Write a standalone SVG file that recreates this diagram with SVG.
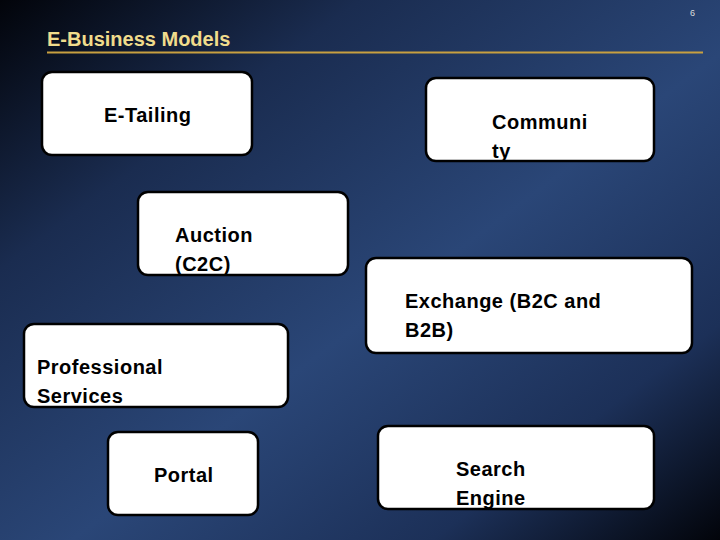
<svg xmlns="http://www.w3.org/2000/svg" width="720" height="540" viewBox="0 0 720 540">
<defs>
<linearGradient id="bg" x1="0" y1="0" x2="1" y2="1">
<stop offset="0" stop-color="#02040a"/>
<stop offset="0.25" stop-color="#1a2c50"/>
<stop offset="0.55" stop-color="#2a4677"/>
<stop offset="0.8" stop-color="#1c3058"/>
<stop offset="1" stop-color="#02040a"/>
</linearGradient>
<style>
.box{fill:#fff;stroke:#000;stroke-width:2.5}
.t{font-family:"Liberation Sans",Arial,sans-serif;font-size:20px;font-weight:bold;fill:#000;letter-spacing:0.5px}
</style>
</defs>
<rect width="720" height="540" fill="url(#bg)"/>
<text x="690" y="16" font-family="Liberation Sans,sans-serif" font-size="9" fill="#ddd">6</text>
<text x="47" y="46" font-family="Liberation Sans,sans-serif" font-size="20" font-weight="bold" fill="#f0dc8c">E-Business Models</text>
<line x1="47" y1="52.5" x2="703" y2="52.5" stroke="#c8a040" stroke-width="2"/>
<g id="connectors"/>
<g id="etailing"><rect class="box" x="42" y="72" width="210" height="83" rx="10"/><text class="t" x="104" y="122">E-Tailing</text></g>
<g id="community"><rect class="box" x="426" y="78" width="228" height="83" rx="10"/><text class="t" x="492" y="129">Communi</text><text class="t" x="492" y="158">ty</text></g>
<g id="auction"><rect class="box" x="138" y="192" width="210" height="83" rx="10"/><text class="t" x="175" y="242">Auction</text><text class="t" x="175" y="271">(C2C)</text></g>
<g id="exchange"><rect class="box" x="366" y="258" width="326" height="95" rx="10"/><text class="t" x="405" y="308">Exchange (B2C and</text><text class="t" x="405" y="337">B2B)</text></g>
<g id="professional"><rect class="box" x="24" y="324" width="264" height="83" rx="10"/><text class="t" x="37" y="374">Professional</text><text class="t" x="37" y="403">Services</text></g>
<g id="portal"><rect class="box" x="108" y="432" width="150" height="83" rx="10"/><text class="t" x="154" y="482">Portal</text></g>
<g id="search"><rect class="box" x="378" y="426" width="276" height="83" rx="10"/><text class="t" x="456" y="476">Search</text><text class="t" x="456" y="505">Engine</text></g>
</svg>
